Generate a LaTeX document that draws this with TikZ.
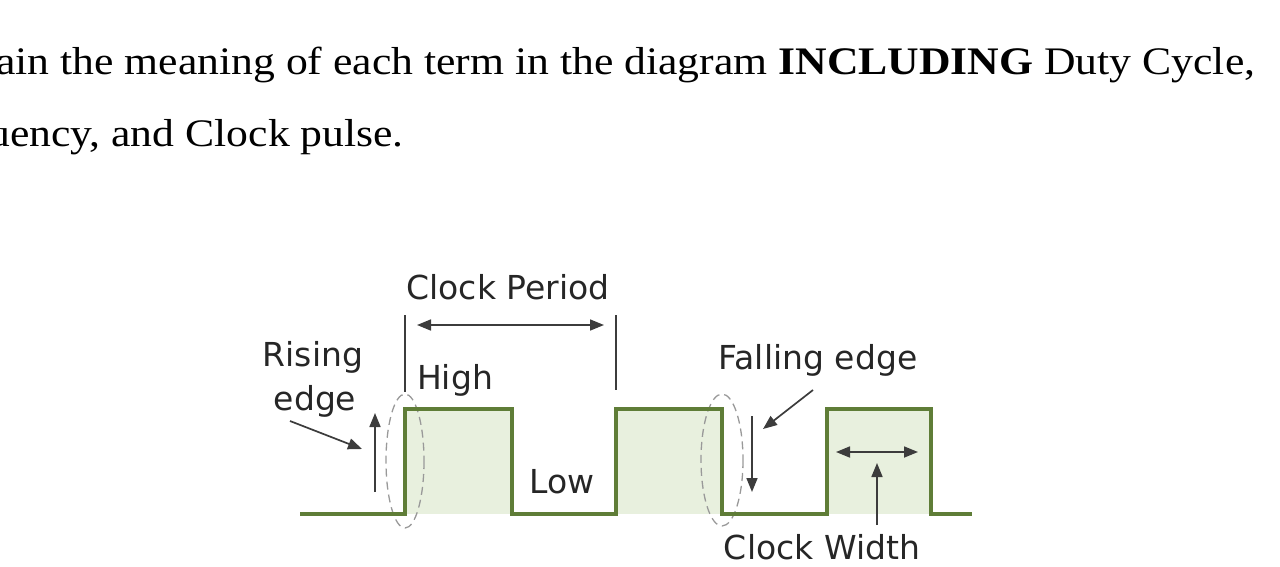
\documentclass[tikz,border=0pt]{standalone}
\usepackage{fontspec}
\setmainfont{Liberation Serif}[FakeStretch=1.12]
\newfontfamily\lab{DejaVu Sans}
\usetikzlibrary{arrows.meta}
\definecolor{wave}{RGB}{95,125,55}
\definecolor{wfill}{RGB}{232,240,222}
\definecolor{ann}{RGB}{60,60,60}
\tikzset{
  lbl/.style={font=\lab\fontsize{33}{36}\selectfont, text=black!85, inner sep=0},
  body/.style={font=\fontsize{39}{42}\selectfont, inner sep=0, anchor=base west},
  arr/.style={draw=ann, line width=1.7pt, -{Triangle[length=14pt,width=11pt]}},
  darr/.style={draw=ann, line width=1.7pt, {Triangle[length=14pt,width=11pt]}-{Triangle[length=14pt,width=11pt]}},
  tick/.style={draw=ann, line width=1.2pt},
  dsh/.style={draw=gray!80, dash pattern=on 8pt off 5pt, line width=1.3pt}
}
\begin{document}
\begin{tikzpicture}[x=1pt,y=-1pt]
\useasboundingbox (0,0) rectangle (1280,566);
\node[body] (t1) at (-4,74) {ain the meaning of each term in the diagram \textbf{INCLUDING} Duty Cycle,};
\node[body] (t2) at (-12,146) {uency, and Clock pulse.};
% fills
\fill[wfill] (405,409) rectangle (512,514);
\fill[wfill] (616,409) rectangle (722,514);
\fill[wfill] (827,409) rectangle (931,514);
% ellipses
\draw[dsh] (405,461) ellipse (19 and 67);
\draw[dsh] (722,460) ellipse (21 and 66);
% wave
\draw[wave, line width=4.5pt, line join=miter] (300,514) -- (405,514) -- (405,409) -- (512,409) -- (512,514) -- (616,514) -- (616,409) -- (722,409) -- (722,514) -- (827,514) -- (827,409) -- (931,409) -- (931,514) -- (972,514);
% labels
\node[lbl] (cp) at (508,287) {Clock Period};
\node[lbl] (r1) at (313,357) {Rising};
\node[lbl] (r2) at (315,401) {edge};
\node[lbl] (hi) at (455,380) {High};
\node[lbl] (lo) at (562,482) {Low};
\node[lbl] (fe) at (818,360) {Falling edge};
\node[lbl] (cw) at (822,547) {Clock Width};
% clock period
\coordinate (p1) at (405,315); \coordinate (p1b) at (405,392);
\coordinate (p2) at (616,315); \coordinate (p2b) at (616,390);
\draw[tick] (p1) -- (p1b);
\draw[tick] (p2) -- (p2b);
\coordinate (a1) at (417,325); \coordinate (a2) at (604,325);
\draw[darr] (a1) -- (a2);
% rising
\coordinate (ru0) at (375,492); \coordinate (ru1) at (375,413);
\draw[arr] (ru0) -- (ru1);
\coordinate (rs) at (290,421); \coordinate (rp) at (362,449);
\draw[arr] (rs) -- (rp);
% falling
\coordinate (fd0) at (752,416); \coordinate (fd1) at (752,492);
\draw[arr] (fd0) -- (fd1);
\coordinate (fp0) at (813,390); \coordinate (fp1) at (763,429);
\draw[arr] (fp0) -- (fp1);
% width
\coordinate (w1) at (836,452); \coordinate (w2) at (918,452);
\draw[darr] (w1) -- (w2);
\coordinate (wu0) at (877,525); \coordinate (wu1) at (877,463);
\draw[arr] (wu0) -- (wu1);
\end{tikzpicture}
\end{document}
